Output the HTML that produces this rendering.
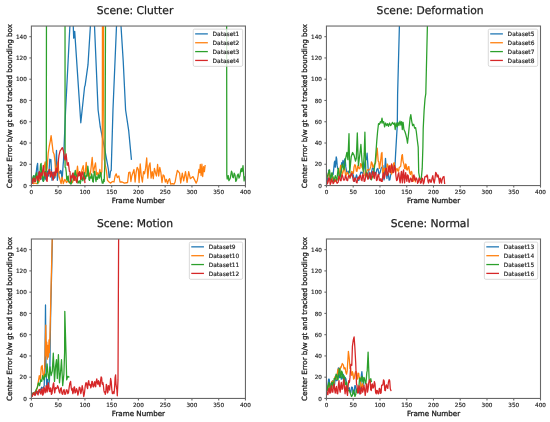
<!DOCTYPE html>
<html><head><meta charset="utf-8"><title>Center Error plots</title>
<style>html,body{margin:0;padding:0;background:#fff}svg{display:block}text{stroke:#222;stroke-width:.16px;stroke-linejoin:round}</style></head>
<body>
<svg width="550" height="422" viewBox="0 0 550 422" font-family="'DejaVu Sans', 'Liberation Sans', sans-serif" fill="#222" stroke="#222" stroke-width="0" text-rendering="geometricPrecision">
<rect width="550" height="422" fill="#fff"/>
<clipPath id="c0"><rect x="31.4" y="26.04" width="214.05" height="159.51"/></clipPath>
<g clip-path="url(#c0)" fill="none" stroke-width="1.28" stroke-linejoin="round" stroke-linecap="square">
<polyline stroke="#1f77b4" points="31.6,178.1 32.3,181.2 32.9,180.3 33.7,175.8 34.5,176.0 35.4,177.4 36.2,172.7 36.9,166.7 37.6,163.4 38.4,181.4 38.9,179.1 39.4,172.7 40.0,171.8 40.5,179.2 41.1,179.1 41.6,171.6 42.2,172.8 42.7,180.3 43.5,181.2 44.3,176.0 44.9,174.8 45.4,179.2 46.2,179.2 47.1,172.7 47.9,170.9 48.7,176.0 49.8,159.1 50.3,161.5 50.9,159.6 52.0,180.3 52.8,172.7 53.6,172.7 54.4,178.2 55.2,177.0 56.5,150.4 57.4,180.3 58.2,172.6 59.0,171.6 59.9,173.5 60.7,170.5 61.2,171.2 61.8,177.0 62.2,178.7 62.6,172.7 63.1,165.2 63.5,161.1 65.5,112.2 70.0,23.9 72.1,-5.9 73.7,38.2 74.7,31.4 80.8,122.8 84.6,86.7 85.1,85.6 88.0,64.7 90.4,26.0 92.4,-11.2 94.5,26.0 98.1,110.0 100.2,126.5 104.3,146.9 108.4,169.4 109.1,177.5 109.8,177.5 110.5,171.0 111.2,170.7 113.0,109.0 116.5,26.0 118.6,-11.2 121.0,26.0 123.2,60.7 125.6,110.0 128.7,130.7 131.4,159.2"/>
<polyline stroke="#ff7f0e" points="31.6,181.9 33.4,183.6 35.1,183.0 36.7,183.6 38.9,181.9 40.5,178.1 42.2,176.0 43.3,171.6 44.3,166.2 45.2,161.8 46.0,172.7 47.1,168.3 48.2,153.1 49.2,146.5 50.3,141.1 51.1,135.6 52.2,144.4 53.1,152.0 54.1,154.2 55.0,161.8 55.8,176.0 56.9,167.2 58.0,161.8 59.0,176.0 61.1,183.6 62.2,177.1 63.3,183.6 64.9,179.3 66.5,182.5 68.2,180.4 69.8,183.1 70.9,180.4 72.5,182.5 74.2,177.1 75.8,180.4 77.5,166.2 78.5,176.0 79.6,171.6 80.7,177.1 81.8,170.5 83.2,165.6 84.2,176.0 85.3,172.7 86.2,162.4 87.3,176.0 88.4,170.5 89.5,176.0 90.5,172.7 92.2,157.5 93.3,172.7 94.4,167.3 95.5,162.9 96.5,174.9 97.6,172.7 98.7,176.0 99.8,169.5 100.9,174.9 101.8,171.6 102.3,143.0 102.5,-16.5 103.4,-16.5 103.7,111.1 104.2,159.0 106.4,170.5 107.5,180.4 109.1,182.0 110.7,183.1 112.4,181.5 114.0,182.0 115.1,176.0 116.2,173.8 117.3,177.6 118.9,176.0 120.0,182.0 122.2,182.0 124.4,183.1 127.6,182.5 128.7,172.7 130.0,172.2 130.9,181.5 131.8,176.0 132.9,172.7 134.0,169.5 135.1,182.0 136.1,172.7 137.2,167.3 138.3,169.5 139.1,182.5 140.2,164.0 141.3,176.0 142.4,182.0 143.5,171.6 144.5,173.8 145.6,168.4 146.7,158.0 147.8,178.2 148.9,166.2 150.0,162.9 151.1,178.2 152.2,171.6 153.3,178.7 154.4,168.4 155.5,172.7 156.5,176.0 157.6,164.5 158.7,176.0 159.8,167.3 160.9,172.7 162.0,182.5 163.1,174.9 164.2,176.0 165.3,182.0 166.4,179.3 167.5,183.6 168.5,180.4 169.6,178.7 170.7,184.2 172.4,183.6 174.0,184.2 175.1,182.0 176.2,176.0 177.4,170.3 179.6,173.2 180.7,183.0 182.3,173.2 183.7,180.9 185.5,171.7 187.1,182.4 188.7,171.7 190.3,178.7 193.0,176.6 196.2,183.1 197.3,180.4 198.1,176.0 198.9,169.5 199.7,172.7 200.3,164.5 201.1,175.5 201.9,164.2 202.7,176.5 203.6,166.7 204.4,171.6 205.1,165.6"/>
<polyline stroke="#2ca02c" points="31.6,177.0 32.3,182.1 32.9,182.5 33.4,175.9 34.0,176.0 34.5,181.6 35.1,181.4 35.9,174.4 36.7,172.7 37.3,179.3 37.8,183.6 38.4,178.0 38.9,178.1 39.4,177.7 40.0,172.7 40.5,165.0 41.1,163.4 41.6,171.7 42.2,176.0 42.7,177.5 43.3,181.4 43.8,180.2 44.3,172.7 44.9,171.6 45.4,176.0 45.9,174.9 46.3,167.2 46.5,-16.5 65.0,-16.5 65.1,167.3 65.7,167.6 66.3,172.7 66.7,179.1 67.1,180.4 67.6,176.9 68.2,176.0 68.7,181.5 69.3,182.5 70.1,182.0 70.9,184.2 71.5,183.2 72.0,177.1 72.5,174.3 73.1,173.8 73.6,178.3 74.2,180.4 74.7,173.5 75.3,170.5 75.8,175.2 76.4,176.0 76.9,175.0 77.5,180.4 78.0,183.2 78.5,182.5 79.4,180.8 80.2,183.6 80.7,181.5 81.3,176.0 81.8,176.4 82.4,179.8 82.9,180.8 83.5,177.1 84.0,173.5 84.5,172.7 85.1,179.0 85.6,178.7 86.2,175.5 86.7,176.0 87.3,173.5 87.8,166.2 88.2,169.5 88.6,174.9 89.0,179.5 89.5,180.4 90.0,177.0 90.5,177.1 91.1,178.3 91.6,173.8 92.2,176.4 92.7,181.5 93.3,182.0 93.8,176.0 94.4,171.4 94.9,171.6 95.5,178.6 96.0,181.5 96.5,177.0 97.1,179.3 97.6,179.1 98.2,174.9 98.7,174.9 99.3,178.2 99.8,176.8 100.4,172.7 100.9,172.9 101.5,179.3 102.3,183.2 103.1,183.1 103.6,179.3 104.2,181.5 105.1,156.4 105.6,-16.5 226.6,-16.5 226.8,174.9 227.2,179.0 227.5,176.5 228.2,175.6 228.9,180.6 230.2,178.5 231.5,171.1 232.1,172.8 232.6,177.0 233.4,177.7 234.2,173.2 235.0,175.0 235.8,181.4 236.6,179.9 237.4,175.4 238.2,174.0 239.0,178.1 239.9,176.0 240.8,169.9 241.3,168.4 241.7,171.7 242.4,170.8 243.0,165.6 244.1,180.9 244.7,176.9 245.2,178.6"/>
<polyline stroke="#d62728" points="31.6,179.2 32.3,183.4 32.9,182.5 33.4,178.5 34.0,178.1 34.8,181.6 35.6,181.4 36.4,177.1 37.3,176.0 37.8,179.8 38.4,180.3 38.9,172.6 39.4,171.6 40.0,178.0 40.5,179.2 41.1,172.9 41.6,174.9 42.2,175.4 42.7,170.5 43.3,165.5 43.8,167.2 44.3,173.7 44.9,176.0 45.4,172.8 46.0,172.7 46.5,180.7 47.1,181.4 47.6,174.8 48.2,172.7 48.7,173.9 49.2,169.4 49.8,169.4 50.3,177.0 50.9,176.5 51.4,171.6 52.0,172.3 52.5,176.0 53.1,180.2 53.6,178.1 54.1,171.8 54.7,172.7 55.2,175.3 55.8,170.5 56.3,168.2 56.9,172.7 57.4,171.5 58.0,167.2 58.5,159.5 59.0,155.3 60.1,150.9 61.2,149.3 62.3,147.6 63.4,150.9 64.5,158.5 65.0,160.1 65.6,156.3 66.1,153.9 66.7,159.6 67.2,165.1 67.8,165.1 68.3,162.7 68.9,167.2 69.4,171.4 70.0,171.6 70.4,181.5 70.9,176.7 71.5,176.0 72.0,178.0 72.5,173.8 73.1,173.0 73.6,179.3 74.2,180.3 74.7,176.0 75.5,176.7 76.4,181.5 76.9,182.7 77.5,178.2 78.0,172.8 78.5,174.9 79.1,175.6 79.6,171.6 80.2,172.9 80.7,179.3 81.3,179.1 81.8,173.8 82.4,171.9 82.9,172.7 83.5,178.8 84.0,178.2 84.4,177.5 84.9,182.5"/>
</g>
<rect x="31.4" y="26.04" width="214.05" height="159.51" fill="none" stroke="#686868" stroke-width="1.1"/>
<g stroke="#686868" stroke-width="1.1"><line x1="31.40" y1="185.55" x2="31.40" y2="187.60000000000002"/><line x1="58.16" y1="185.55" x2="58.16" y2="187.60000000000002"/><line x1="84.91" y1="185.55" x2="84.91" y2="187.60000000000002"/><line x1="111.67" y1="185.55" x2="111.67" y2="187.60000000000002"/><line x1="138.42" y1="185.55" x2="138.42" y2="187.60000000000002"/><line x1="165.18" y1="185.55" x2="165.18" y2="187.60000000000002"/><line x1="191.94" y1="185.55" x2="191.94" y2="187.60000000000002"/><line x1="218.69" y1="185.55" x2="218.69" y2="187.60000000000002"/><line x1="245.45" y1="185.55" x2="245.45" y2="187.60000000000002"/><line x1="31.4" y1="185.55" x2="29.349999999999998" y2="185.55"/><line x1="31.4" y1="164.28" x2="29.349999999999998" y2="164.28"/><line x1="31.4" y1="143.01" x2="29.349999999999998" y2="143.01"/><line x1="31.4" y1="121.75" x2="29.349999999999998" y2="121.75"/><line x1="31.4" y1="100.48" x2="29.349999999999998" y2="100.48"/><line x1="31.4" y1="79.21" x2="29.349999999999998" y2="79.21"/><line x1="31.4" y1="57.94" x2="29.349999999999998" y2="57.94"/><line x1="31.4" y1="36.67" x2="29.349999999999998" y2="36.67"/></g>
<g font-size="5.72" text-anchor="middle"><text x="31.40" y="194.25">0</text><text x="58.16" y="194.25">50</text><text x="84.91" y="194.25">100</text><text x="111.67" y="194.25">150</text><text x="138.42" y="194.25">200</text><text x="165.18" y="194.25">250</text><text x="191.94" y="194.25">300</text><text x="218.69" y="194.25">350</text><text x="245.45" y="194.25">400</text></g><g font-size="5.72" text-anchor="end"><text x="26.90" y="187.75">0</text><text x="26.90" y="166.48">20</text><text x="26.90" y="145.21">40</text><text x="26.90" y="123.95">60</text><text x="26.90" y="102.68">80</text><text x="26.90" y="81.41">100</text><text x="26.90" y="60.14">120</text><text x="26.90" y="38.87">140</text></g>
<text x="138.42" y="203.45" font-size="7.15" text-anchor="middle" style="stroke-width:.3px">Frame Number</text>
<text transform="translate(11.70,106.09) rotate(-90)" font-size="7.15" text-anchor="middle" style="stroke-width:.3px">Center Error b/w gt and tracked bounding box</text>
<text x="135.02" y="13.64" font-size="10.75" text-anchor="middle" style="stroke-width:.25px">Scene: Clutter</text>
<rect x="193.25" y="29.14" width="49.40" height="37.20" rx="1.4" fill="#fff" fill-opacity="0.8" stroke="#ccc" stroke-opacity="0.9" stroke-width="0.8"/>
<line x1="195.15" y1="33.89" x2="207.85" y2="33.89" stroke="#1f77b4" stroke-width="1.28"/>
<text x="212.55" y="36.04" font-size="5.9">Dataset1</text>
<line x1="195.15" y1="42.74" x2="207.85" y2="42.74" stroke="#ff7f0e" stroke-width="1.28"/>
<text x="212.55" y="44.89" font-size="5.9">Dataset2</text>
<line x1="195.15" y1="51.59" x2="207.85" y2="51.59" stroke="#2ca02c" stroke-width="1.28"/>
<text x="212.55" y="53.74" font-size="5.9">Dataset3</text>
<line x1="195.15" y1="60.44" x2="207.85" y2="60.44" stroke="#d62728" stroke-width="1.28"/>
<text x="212.55" y="62.59" font-size="5.9">Dataset4</text>
<clipPath id="c1"><rect x="326.45" y="26.04" width="214.05" height="159.51"/></clipPath>
<g clip-path="url(#c1)" fill="none" stroke-width="1.28" stroke-linejoin="round" stroke-linecap="square">
<polyline stroke="#1f77b4" points="326.6,179.9 327.3,180.9 328.1,175.6 328.8,170.2 329.5,172.7 330.2,178.6 331.0,178.5 331.7,173.7 332.4,174.2 333.1,174.3 333.8,168.4 334.4,162.3 334.9,161.1 335.3,167.1 335.7,164.0 336.2,157.0 336.7,159.0 337.2,165.9 337.7,168.4 338.3,168.8 338.9,172.7 339.6,177.5 340.3,175.6 341.1,166.3 341.8,162.6 342.4,163.8 343.0,160.4 343.5,161.6 344.0,168.4 344.3,168.2 344.7,159.0 345.3,160.6 345.8,166.9 346.7,172.0 347.6,172.7 348.3,171.1 349.0,175.6 350.1,178.2 351.2,172.7 352.3,172.2 353.4,175.6 354.4,181.4 355.5,178.5 356.6,174.8 357.7,179.9 358.8,180.4 359.9,175.6 360.9,172.2 362.0,172.7 363.1,173.5 364.2,168.4 364.9,162.3 365.6,159.7 366.4,159.6 367.1,153.2 368.1,168.4 368.7,170.3 369.3,175.6 370.3,178.9 371.4,172.7 372.5,168.0 373.6,168.4 374.7,174.1 375.8,174.2 376.9,169.3 377.9,168.4 379.0,174.4 380.1,172.7 381.2,168.2 382.3,166.9 382.9,165.5 383.5,176.3 384.0,179.9 385.5,158.3 386.9,178.5 387.7,173.1 388.4,174.2 389.1,180.1 389.8,179.9 390.7,174.8 391.6,172.7 392.4,172.5 393.3,165.5 393.9,164.1 394.5,168.4 395.0,165.8 395.6,153.9 396.6,136.6 397.3,125.0 397.6,95.0 399.4,26.0 400.3,-16.5"/>
<polyline stroke="#ff7f0e" points="326.6,177.0 327.7,177.2 328.8,172.0 329.5,173.6 330.2,178.5 331.0,181.3 331.7,179.9 332.8,177.1 333.8,178.5 334.9,181.5 336.0,181.4 337.1,178.4 338.2,179.9 339.1,177.6 340.1,168.4 340.6,165.5 341.1,165.5 341.8,172.7 342.5,174.2 343.6,170.0 344.7,168.4 345.4,174.4 346.1,175.6 347.2,172.1 348.3,174.2 349.4,177.9 350.5,177.0 351.6,171.4 352.6,172.7 353.4,173.3 354.1,166.9 354.8,164.7 355.5,165.5 356.3,171.1 357.0,171.3 357.7,166.0 358.4,166.9 359.1,168.8 359.9,168.4 360.6,163.7 361.3,164.0 362.0,167.4 362.8,168.4 363.5,169.7 364.2,174.2 365.3,176.1 366.4,172.7 367.5,169.6 368.5,169.8 369.6,169.9 370.7,166.9 371.4,161.8 372.2,163.3 372.9,167.3 373.6,166.9 374.3,164.3 375.0,164.0 375.6,163.0 376.2,156.8 377.2,148.1 378.2,161.1 378.8,161.7 379.4,168.4 380.1,165.2 380.8,159.7 381.4,153.5 382.0,152.5 382.6,172.7 383.3,173.7 384.0,168.4 384.9,168.2 385.8,174.2 386.5,170.3 387.2,164.0 388.0,165.4 388.7,171.3 389.4,171.6 390.1,165.5 390.8,167.0 391.6,174.2 392.3,171.6 393.0,166.9 393.6,163.5 394.2,162.6 394.9,170.0 395.6,172.7 396.3,169.4 397.1,168.4 397.8,170.9 398.5,171.3 399.2,167.5 399.9,166.9 400.7,166.3 401.4,159.7 401.9,155.3 402.4,154.6 402.9,160.3 403.4,162.6 404.0,164.4 404.6,168.4 405.2,168.8 405.7,164.0 406.2,164.8 406.7,169.8 407.5,170.0 408.2,166.9 408.9,166.6 409.6,172.7 410.4,174.5 411.1,171.3 411.8,171.9 412.5,178.5 413.3,181.1 414.0,177.0 414.7,176.6 415.4,181.7"/>
<polyline stroke="#2ca02c" points="326.6,178.5 328.1,174.2 329.5,169.8 330.5,179.9 332.0,172.7 333.8,181.4 335.3,175.6 336.7,180.7 338.2,168.4 339.6,178.5 341.1,172.7 342.5,164.0 344.0,169.8 345.4,159.7 346.9,152.5 347.9,159.7 349.0,133.7 349.7,172.7 351.2,156.8 352.6,152.5 354.1,155.4 355.5,161.1 356.3,158.3 357.3,133.0 358.4,165.5 359.9,153.9 360.9,144.5 362.0,161.1 363.2,171.3 364.2,153.9 364.9,132.2 365.9,177.0 367.1,172.7 368.5,178.5 370.0,174.2 371.4,179.9 372.9,175.6 374.3,168.4 375.3,161.1 376.8,140.6 377.6,131.5 378.5,123.7 379.4,124.3 380.4,121.7 381.1,123.0 382.0,118.2 382.8,123.0 383.7,121.7 384.6,126.9 385.6,123.0 386.7,125.6 387.6,123.7 388.5,126.3 389.6,123.0 390.6,125.6 391.5,124.3 392.4,122.4 393.5,124.3 394.4,123.0 395.2,129.5 396.1,123.0 397.1,126.9 398.0,122.4 398.9,125.6 400.0,121.1 400.9,125.0 401.7,121.7 402.3,129.5 403.1,122.4 403.9,129.5 404.9,131.5 405.9,134.8 406.8,138.7 407.5,143.2 408.5,134.1 409.4,125.0 410.1,117.8 410.8,114.6 411.7,121.1 412.6,125.6 413.7,124.3 414.6,128.2 415.6,127.6 416.3,131.5 417.2,139.3 418.2,147.1 418.7,172.7 419.8,178.5 421.2,179.9 422.2,168.4 422.9,146.7 423.2,128.9 424.1,110.6 425.0,98.9 425.8,93.7 427.4,26.0 428.7,-16.5"/>
<polyline stroke="#d62728" points="326.6,179.2 327.3,183.9 328.1,182.1 328.8,177.9 329.5,178.5 330.2,184.4 331.0,182.8 331.7,179.0 332.4,180.7 333.1,183.6 333.8,182.8 334.9,179.4 336.0,180.7 337.1,183.3 338.2,182.1 338.9,176.0 339.6,177.0 340.3,180.6 341.1,180.7 341.8,174.7 342.5,175.6 343.6,180.0 344.7,179.9 345.4,175.5 346.1,177.0 346.9,180.4 347.6,180.7 348.3,176.6 349.0,175.6 350.1,177.1 351.2,174.2 351.9,173.3 352.6,177.0 353.4,180.9 354.1,181.4 354.8,177.8 355.5,178.5 356.3,182.2 357.0,182.8 357.7,178.3 358.4,177.0 359.1,179.2 359.9,175.6 360.6,175.3 361.3,179.9 362.0,180.7 362.8,174.2 363.5,175.8 364.2,181.4 364.9,180.9 365.6,177.0 366.4,173.0 367.1,174.2 367.8,179.2 368.5,178.5 369.3,173.1 370.0,172.7 370.7,179.2 371.4,177.8 372.2,173.0 372.9,171.3 373.6,176.7 374.3,178.5 375.0,172.3 375.8,172.7 376.5,180.5 377.2,179.9 377.9,174.9 378.7,174.2 379.4,180.2 380.1,180.7 380.8,178.7 381.4,181.4 382.2,181.4 382.9,174.2 383.6,172.8 384.3,178.5 385.1,175.2 385.8,168.4 386.5,168.4 387.2,175.6 388.0,173.9 388.7,166.9 389.4,166.0 390.1,172.7 390.8,172.2 391.6,164.0 392.3,166.8 393.0,172.7 393.7,172.0 394.5,165.5 395.2,167.4 395.9,175.6 396.6,180.5 397.3,179.9 398.1,174.4 398.8,172.7 399.5,179.5 400.2,182.8 400.8,175.5 401.4,171.3 401.9,179.1 402.4,182.8 403.0,172.5 403.6,169.8 404.1,179.2 404.6,182.8 405.2,175.2 405.7,172.7 406.3,178.7 406.9,181.4 407.5,174.9 408.2,175.6 408.9,182.0 409.6,182.1 410.4,178.1 411.1,178.5 411.8,181.5 412.5,181.4 413.3,175.6 414.0,174.9 414.7,179.7 415.4,180.7 416.1,177.9 416.9,179.2 417.6,183.3 418.3,182.1 419.0,178.0 419.8,179.9 420.5,183.2 421.2,182.8 421.9,178.1 422.6,178.5 423.4,183.9 424.1,182.1 424.8,176.9 425.5,176.3 426.3,176.9 427.0,174.9 427.5,176.1 428.0,181.4 428.6,183.0 429.2,179.9 429.9,179.4 430.6,182.1 431.3,182.2 432.0,178.5 432.8,175.7 433.5,180.7 434.2,183.2 434.9,179.2 435.7,172.4 436.4,173.4 437.1,177.0 437.8,174.9 438.4,176.1 439.0,179.9 439.5,183.2 440.0,178.5 440.5,178.2 441.0,181.3 441.5,183.2 442.0,180.2 443.0,177.1 444.0,176.5 444.6,183.4"/>
</g>
<rect x="326.45" y="26.04" width="214.05" height="159.51" fill="none" stroke="#686868" stroke-width="1.1"/>
<g stroke="#686868" stroke-width="1.1"><line x1="326.45" y1="185.55" x2="326.45" y2="187.60000000000002"/><line x1="353.21" y1="185.55" x2="353.21" y2="187.60000000000002"/><line x1="379.96" y1="185.55" x2="379.96" y2="187.60000000000002"/><line x1="406.72" y1="185.55" x2="406.72" y2="187.60000000000002"/><line x1="433.48" y1="185.55" x2="433.48" y2="187.60000000000002"/><line x1="460.23" y1="185.55" x2="460.23" y2="187.60000000000002"/><line x1="486.99" y1="185.55" x2="486.99" y2="187.60000000000002"/><line x1="513.74" y1="185.55" x2="513.74" y2="187.60000000000002"/><line x1="540.50" y1="185.55" x2="540.50" y2="187.60000000000002"/><line x1="326.45" y1="185.55" x2="324.4" y2="185.55"/><line x1="326.45" y1="164.28" x2="324.4" y2="164.28"/><line x1="326.45" y1="143.01" x2="324.4" y2="143.01"/><line x1="326.45" y1="121.75" x2="324.4" y2="121.75"/><line x1="326.45" y1="100.48" x2="324.4" y2="100.48"/><line x1="326.45" y1="79.21" x2="324.4" y2="79.21"/><line x1="326.45" y1="57.94" x2="324.4" y2="57.94"/><line x1="326.45" y1="36.67" x2="324.4" y2="36.67"/></g>
<g font-size="5.72" text-anchor="middle"><text x="326.45" y="194.25">0</text><text x="353.21" y="194.25">50</text><text x="379.96" y="194.25">100</text><text x="406.72" y="194.25">150</text><text x="433.48" y="194.25">200</text><text x="460.23" y="194.25">250</text><text x="486.99" y="194.25">300</text><text x="513.74" y="194.25">350</text><text x="540.50" y="194.25">400</text></g><g font-size="5.72" text-anchor="end"><text x="321.95" y="187.75">0</text><text x="321.95" y="166.48">20</text><text x="321.95" y="145.21">40</text><text x="321.95" y="123.95">60</text><text x="321.95" y="102.68">80</text><text x="321.95" y="81.41">100</text><text x="321.95" y="60.14">120</text><text x="321.95" y="38.87">140</text></g>
<text x="433.48" y="203.45" font-size="7.15" text-anchor="middle" style="stroke-width:.3px">Frame Number</text>
<text transform="translate(306.75,106.09) rotate(-90)" font-size="7.15" text-anchor="middle" style="stroke-width:.3px">Center Error b/w gt and tracked bounding box</text>
<text x="430.08" y="13.64" font-size="10.75" text-anchor="middle" style="stroke-width:.25px">Scene: Deformation</text>
<rect x="488.30" y="29.14" width="49.40" height="37.20" rx="1.4" fill="#fff" fill-opacity="0.8" stroke="#ccc" stroke-opacity="0.9" stroke-width="0.8"/>
<line x1="490.20" y1="33.89" x2="502.90" y2="33.89" stroke="#1f77b4" stroke-width="1.28"/>
<text x="507.60" y="36.04" font-size="5.9">Dataset5</text>
<line x1="490.20" y1="42.74" x2="502.90" y2="42.74" stroke="#ff7f0e" stroke-width="1.28"/>
<text x="507.60" y="44.89" font-size="5.9">Dataset6</text>
<line x1="490.20" y1="51.59" x2="502.90" y2="51.59" stroke="#2ca02c" stroke-width="1.28"/>
<text x="507.60" y="53.74" font-size="5.9">Dataset7</text>
<line x1="490.20" y1="60.44" x2="502.90" y2="60.44" stroke="#d62728" stroke-width="1.28"/>
<text x="507.60" y="62.59" font-size="5.9">Dataset8</text>
<clipPath id="c2"><rect x="31.4" y="239.0" width="214.05" height="159.45"/></clipPath>
<g clip-path="url(#c2)" fill="none" stroke-width="1.28" stroke-linejoin="round" stroke-linecap="square">
<polyline stroke="#1f77b4" points="31.6,392.9 33.1,394.1 34.5,392.2 36.0,393.7 37.4,391.5 38.8,392.9 40.3,390.0 41.7,387.2 43.2,388.6 44.2,385.7 45.0,355.9 45.5,304.9 46.0,366.6 46.7,385.7 47.5,379.3 48.3,387.8 49.4,380.7 49.9,366.6 50.6,316.6 52.4,239.0 53.3,196.5"/>
<polyline stroke="#ff7f0e" points="31.6,395.1 33.8,393.7 36.0,391.5 37.4,387.2 38.4,381.4 39.3,375.6 40.3,379.9 41.3,366.9 42.2,365.5 43.2,377.0 44.2,375.6 44.9,363.4 45.8,325.1 46.3,355.9 46.8,342.1 47.3,359.1 47.9,345.3 48.4,357.0 49.0,340.0 49.4,352.7 49.9,336.8 50.4,316.6 52.2,239.0 53.1,196.5"/>
<polyline stroke="#2ca02c" points="31.6,395.8 33.1,392.9 34.5,394.4 36.0,390.0 37.4,387.2 38.4,382.8 39.6,385.7 40.7,379.9 41.7,381.4 42.7,375.6 43.9,379.9 45.1,374.1 46.1,377.0 47.1,364.0 48.0,374.1 49.0,379.9 50.0,366.9 51.1,375.6 52.3,371.2 53.3,353.2 54.5,381.4 55.5,366.9 56.5,359.7 57.3,378.5 58.4,354.6 59.5,382.8 60.5,372.7 61.5,359.7 62.7,385.7 63.9,374.1 64.6,352.5 64.8,311.3 66.0,352.5 66.7,379.9 67.8,376.3 68.8,377.0"/>
<polyline stroke="#d62728" points="31.6,395.8 32.3,396.4 33.1,393.7 33.8,392.6 34.5,395.1 35.2,395.3 36.0,391.5 36.7,390.9 37.4,393.7 38.1,394.9 38.8,390.0 39.6,389.4 40.3,392.9 41.0,394.1 41.7,388.6 42.2,389.1 42.7,395.1 43.3,393.9 43.9,387.2 44.5,388.5 45.1,392.9 45.6,391.5 46.1,385.7 46.6,385.8 47.1,392.2 47.7,389.1 48.2,382.8 48.8,385.9 49.4,391.5 49.9,391.7 50.4,387.9 50.9,388.3 51.4,394.4 52.0,393.5 52.6,388.6 53.2,384.2 53.7,382.8 54.2,389.7 54.7,392.9 55.5,387.6 56.2,388.6 56.9,388.3 57.6,385.7 58.4,387.5 59.1,391.5 59.8,393.1 60.5,388.6 61.2,387.8 62.0,393.7 62.7,394.3 63.4,390.8 64.1,389.5 64.9,394.4 65.6,393.8 66.3,390.0 67.0,389.9 67.8,393.7 68.5,392.6 69.2,387.2 69.9,382.9 70.6,381.4 71.2,387.6 71.7,390.0 72.2,388.4 72.8,393.7 73.4,391.9 74.0,387.2 74.5,386.9 75.0,392.9 75.7,392.3 76.4,388.6 77.2,390.6 77.9,395.1 78.6,392.2 79.3,387.2 80.0,387.7 80.8,393.7 81.5,390.9 82.2,385.7 82.9,389.5 83.7,396.5 84.4,393.5 85.1,387.2 85.8,382.9 86.5,382.8 87.1,387.2 87.6,388.6 88.1,382.8 88.7,380.6 89.3,385.1 89.8,384.3 90.3,384.8 90.8,387.9 91.3,386.2 91.9,381.4 92.4,381.6 93.0,386.4 93.6,386.9 94.2,383.5 94.7,381.6 95.2,385.7 95.7,386.8 96.2,381.4 96.8,378.8 97.3,382.8 97.9,384.3 98.5,380.6 99.0,382.0 99.5,385.7 100.0,386.6 100.5,381.4 101.1,377.0 101.7,377.8 102.0,383.3 102.4,384.3 102.9,382.5 103.4,385.7 103.9,390.4 104.3,392.2 104.8,392.0 105.3,394.4 105.8,391.7 106.3,384.3 106.9,386.0 107.5,392.9 108.0,391.7 108.5,385.7 109.1,386.1 109.6,390.0 110.1,385.4 110.6,378.5 111.2,381.3 111.8,389.3 112.4,393.7 113.0,392.9 113.5,391.7 114.0,393.7 114.3,391.2 114.7,385.7 115.1,377.5 115.6,374.9 116.0,384.1 116.4,387.2 116.9,389.9 117.3,395.8 118.0,379.9 118.8,196.5"/>
</g>
<rect x="31.4" y="239.0" width="214.05" height="159.45" fill="none" stroke="#686868" stroke-width="1.1"/>
<g stroke="#686868" stroke-width="1.1"><line x1="31.40" y1="398.45" x2="31.40" y2="400.5"/><line x1="58.16" y1="398.45" x2="58.16" y2="400.5"/><line x1="84.91" y1="398.45" x2="84.91" y2="400.5"/><line x1="111.67" y1="398.45" x2="111.67" y2="400.5"/><line x1="138.42" y1="398.45" x2="138.42" y2="400.5"/><line x1="165.18" y1="398.45" x2="165.18" y2="400.5"/><line x1="191.94" y1="398.45" x2="191.94" y2="400.5"/><line x1="218.69" y1="398.45" x2="218.69" y2="400.5"/><line x1="245.45" y1="398.45" x2="245.45" y2="400.5"/><line x1="31.4" y1="398.45" x2="29.349999999999998" y2="398.45"/><line x1="31.4" y1="377.19" x2="29.349999999999998" y2="377.19"/><line x1="31.4" y1="355.93" x2="29.349999999999998" y2="355.93"/><line x1="31.4" y1="334.67" x2="29.349999999999998" y2="334.67"/><line x1="31.4" y1="313.41" x2="29.349999999999998" y2="313.41"/><line x1="31.4" y1="292.15" x2="29.349999999999998" y2="292.15"/><line x1="31.4" y1="270.89" x2="29.349999999999998" y2="270.89"/><line x1="31.4" y1="249.63" x2="29.349999999999998" y2="249.63"/></g>
<g font-size="5.72" text-anchor="middle"><text x="31.40" y="407.15">0</text><text x="58.16" y="407.15">50</text><text x="84.91" y="407.15">100</text><text x="111.67" y="407.15">150</text><text x="138.42" y="407.15">200</text><text x="165.18" y="407.15">250</text><text x="191.94" y="407.15">300</text><text x="218.69" y="407.15">350</text><text x="245.45" y="407.15">400</text></g><g font-size="5.72" text-anchor="end"><text x="26.90" y="400.65">0</text><text x="26.90" y="379.39">20</text><text x="26.90" y="358.13">40</text><text x="26.90" y="336.87">60</text><text x="26.90" y="315.61">80</text><text x="26.90" y="294.35">100</text><text x="26.90" y="273.09">120</text><text x="26.90" y="251.83">140</text></g>
<text x="138.42" y="416.35" font-size="7.15" text-anchor="middle" style="stroke-width:.3px">Frame Number</text>
<text transform="translate(11.70,319.03) rotate(-90)" font-size="7.15" text-anchor="middle" style="stroke-width:.3px">Center Error b/w gt and tracked bounding box</text>
<text x="135.02" y="226.60" font-size="10.75" text-anchor="middle" style="stroke-width:.25px">Scene: Motion</text>
<rect x="189.35" y="242.10" width="53.30" height="37.20" rx="1.4" fill="#fff" fill-opacity="0.8" stroke="#ccc" stroke-opacity="0.9" stroke-width="0.8"/>
<line x1="191.25" y1="246.85" x2="203.95" y2="246.85" stroke="#1f77b4" stroke-width="1.28"/>
<text x="208.65" y="249.00" font-size="5.9">Dataset9</text>
<line x1="191.25" y1="255.70" x2="203.95" y2="255.70" stroke="#ff7f0e" stroke-width="1.28"/>
<text x="208.65" y="257.85" font-size="5.9">Dataset10</text>
<line x1="191.25" y1="264.55" x2="203.95" y2="264.55" stroke="#2ca02c" stroke-width="1.28"/>
<text x="208.65" y="266.70" font-size="5.9">Dataset11</text>
<line x1="191.25" y1="273.40" x2="203.95" y2="273.40" stroke="#d62728" stroke-width="1.28"/>
<text x="208.65" y="275.55" font-size="5.9">Dataset12</text>
<clipPath id="c3"><rect x="326.45" y="239.0" width="214.05" height="159.45"/></clipPath>
<g clip-path="url(#c3)" fill="none" stroke-width="1.28" stroke-linejoin="round" stroke-linecap="square">
<polyline stroke="#1f77b4" points="326.6,388.9 327.3,390.1 327.9,385.6 328.6,379.1 329.2,379.1 329.8,385.4 330.4,384.0 330.9,383.8 331.5,386.4 332.2,385.0 332.8,380.7 333.5,381.2 334.1,387.2 334.7,383.6 335.3,377.4 335.8,375.8 336.4,380.7 337.1,380.4 337.7,372.5 338.4,367.9 339.0,370.1 339.6,377.7 340.2,377.4 340.7,374.9 341.3,379.1 342.0,378.8 342.6,375.8 343.3,374.3 343.9,380.7 344.5,382.4 345.1,377.4 345.9,378.8 346.7,384.0 347.5,387.8 348.4,388.9 349.2,387.6 350.0,392.2 350.8,392.5 351.6,387.2 352.4,387.4 353.3,393.8 354.1,392.8 354.9,385.6 355.7,386.3 356.5,392.2 357.3,392.2 358.2,388.9 359.0,387.5 359.8,393.8 360.4,392.3 360.9,384.0 361.4,374.9 361.9,371.7 362.4,377.0 362.9,379.1 363.4,380.0 363.9,385.6"/>
<polyline stroke="#ff7f0e" points="326.6,387.2 327.4,389.0 328.2,385.6 329.1,384.5 329.9,388.9 330.7,387.9 331.5,382.3 332.3,381.0 333.1,384.0 334.0,383.4 334.8,377.4 335.4,376.3 336.1,379.1 336.7,377.4 337.4,372.5 338.0,369.2 338.5,369.2 339.1,374.0 339.7,372.5 340.3,367.1 341.0,367.6 342.3,363.5 343.4,365.2 344.1,368.9 344.8,367.6 345.3,368.5 345.9,372.5 346.6,374.2 347.2,370.9 348.4,351.3 349.2,357.8 350.0,368.4 350.6,368.2 351.1,372.5 351.8,375.4 352.4,371.7 353.0,373.8 353.6,379.1 354.2,378.5 354.9,374.2 355.5,371.7 356.2,371.7 356.8,378.8 357.3,379.1 358.0,373.2 358.7,373.3 359.2,378.7 359.8,377.4 360.4,380.1 360.9,387.2 361.6,387.8 362.3,384.0 362.7,383.6 363.1,386.4"/>
<polyline stroke="#2ca02c" points="326.6,385.6 327.3,390.4 327.9,388.9 328.7,382.4 329.5,384.0 330.4,389.3 331.2,386.4 331.8,382.1 332.5,382.3 333.1,387.4 333.6,385.6 334.2,378.3 334.8,379.1 335.4,379.0 336.1,374.2 336.7,374.9 337.4,379.1 338.0,379.9 338.5,375.8 339.2,368.9 339.8,368.4 340.4,376.0 341.0,377.4 341.6,371.1 342.3,372.5 342.9,377.4 343.4,379.1 344.0,375.7 344.6,377.4 345.2,384.6 345.9,384.0 346.6,382.2 347.2,387.2 348.0,390.8 348.8,390.5 349.7,390.5 350.5,393.8 351.5,396.5 352.4,395.4 353.3,390.2 354.1,392.2 354.9,396.4 355.7,394.6 356.5,389.3 357.3,388.9 358.2,391.0 359.0,385.6 359.6,378.2 360.3,379.1 360.9,381.3 361.4,377.4 362.0,376.4 362.6,380.7 363.2,382.8 363.9,377.4 364.5,378.5 365.2,382.3 365.8,383.8 366.3,379.1 366.8,372.7 367.2,370.9 368.1,352.1 369.1,379.1 369.8,382.2 370.4,382.3 370.8,378.6 371.3,381.5"/>
<polyline stroke="#d62728" points="326.6,390.5 327.3,394.2 327.9,394.6 328.6,388.7 329.2,388.1 329.8,393.2 330.4,393.0 330.9,387.9 331.5,385.6 332.2,392.2 332.8,392.2 333.5,386.4 334.1,384.0 334.7,390.0 335.3,393.0 335.8,388.4 336.4,386.4 337.1,393.4 337.7,393.8 338.4,385.2 339.0,380.7 339.6,389.3 340.2,392.2 340.7,385.9 341.3,382.3 342.0,389.3 342.6,388.9 343.3,381.9 343.9,379.1 344.5,388.2 345.1,393.8 345.7,388.1 346.2,385.6 346.9,392.4 347.5,395.4 348.2,385.5 348.8,380.7 349.4,382.5 350.0,377.4 350.8,364.3 351.8,365.2 352.4,346.4 353.3,339.8 354.1,336.9 354.9,348.0 355.7,362.7 356.5,384.0 357.1,385.8 357.7,393.0 358.3,392.9 359.0,385.6 359.6,388.0 360.3,393.8 360.9,393.4 361.4,387.2 362.0,387.0 362.6,392.2 363.2,390.4 363.9,385.6 364.5,388.7 365.2,395.4 365.8,391.4 366.3,384.0 366.9,384.0 367.5,392.2 368.1,389.2 368.8,382.3 369.4,379.8 370.1,380.7 370.7,389.7 371.3,390.5 371.8,384.5 372.4,384.0 373.0,388.2 373.7,387.2 374.4,381.7 375.0,384.0 375.6,392.5 376.2,393.8 376.7,390.3 377.3,390.5 378.0,393.6 378.6,393.8 379.3,388.3 379.9,388.9 380.5,393.3 381.1,393.0 381.6,385.5 382.2,384.8 382.9,385.1 383.5,379.9 384.2,381.1 384.8,390.5 385.4,390.7 386.0,385.6 386.5,384.8 387.1,387.2 387.8,388.4 388.4,382.3 389.1,379.6 389.7,380.7 390.3,388.8 390.9,390.5"/>
</g>
<rect x="326.45" y="239.0" width="214.05" height="159.45" fill="none" stroke="#686868" stroke-width="1.1"/>
<g stroke="#686868" stroke-width="1.1"><line x1="326.45" y1="398.45" x2="326.45" y2="400.5"/><line x1="353.21" y1="398.45" x2="353.21" y2="400.5"/><line x1="379.96" y1="398.45" x2="379.96" y2="400.5"/><line x1="406.72" y1="398.45" x2="406.72" y2="400.5"/><line x1="433.48" y1="398.45" x2="433.48" y2="400.5"/><line x1="460.23" y1="398.45" x2="460.23" y2="400.5"/><line x1="486.99" y1="398.45" x2="486.99" y2="400.5"/><line x1="513.74" y1="398.45" x2="513.74" y2="400.5"/><line x1="540.50" y1="398.45" x2="540.50" y2="400.5"/><line x1="326.45" y1="398.45" x2="324.4" y2="398.45"/><line x1="326.45" y1="377.19" x2="324.4" y2="377.19"/><line x1="326.45" y1="355.93" x2="324.4" y2="355.93"/><line x1="326.45" y1="334.67" x2="324.4" y2="334.67"/><line x1="326.45" y1="313.41" x2="324.4" y2="313.41"/><line x1="326.45" y1="292.15" x2="324.4" y2="292.15"/><line x1="326.45" y1="270.89" x2="324.4" y2="270.89"/><line x1="326.45" y1="249.63" x2="324.4" y2="249.63"/></g>
<g font-size="5.72" text-anchor="middle"><text x="326.45" y="407.15">0</text><text x="353.21" y="407.15">50</text><text x="379.96" y="407.15">100</text><text x="406.72" y="407.15">150</text><text x="433.48" y="407.15">200</text><text x="460.23" y="407.15">250</text><text x="486.99" y="407.15">300</text><text x="513.74" y="407.15">350</text><text x="540.50" y="407.15">400</text></g><g font-size="5.72" text-anchor="end"><text x="321.95" y="400.65">0</text><text x="321.95" y="379.39">20</text><text x="321.95" y="358.13">40</text><text x="321.95" y="336.87">60</text><text x="321.95" y="315.61">80</text><text x="321.95" y="294.35">100</text><text x="321.95" y="273.09">120</text><text x="321.95" y="251.83">140</text></g>
<text x="433.48" y="416.35" font-size="7.15" text-anchor="middle" style="stroke-width:.3px">Frame Number</text>
<text transform="translate(306.75,319.03) rotate(-90)" font-size="7.15" text-anchor="middle" style="stroke-width:.3px">Center Error b/w gt and tracked bounding box</text>
<text x="430.08" y="226.60" font-size="10.75" text-anchor="middle" style="stroke-width:.25px">Scene: Normal</text>
<rect x="484.40" y="242.10" width="53.30" height="37.20" rx="1.4" fill="#fff" fill-opacity="0.8" stroke="#ccc" stroke-opacity="0.9" stroke-width="0.8"/>
<line x1="486.30" y1="246.85" x2="499.00" y2="246.85" stroke="#1f77b4" stroke-width="1.28"/>
<text x="503.70" y="249.00" font-size="5.9">Dataset13</text>
<line x1="486.30" y1="255.70" x2="499.00" y2="255.70" stroke="#ff7f0e" stroke-width="1.28"/>
<text x="503.70" y="257.85" font-size="5.9">Dataset14</text>
<line x1="486.30" y1="264.55" x2="499.00" y2="264.55" stroke="#2ca02c" stroke-width="1.28"/>
<text x="503.70" y="266.70" font-size="5.9">Dataset15</text>
<line x1="486.30" y1="273.40" x2="499.00" y2="273.40" stroke="#d62728" stroke-width="1.28"/>
<text x="503.70" y="275.55" font-size="5.9">Dataset16</text>
</svg>
</body></html>
